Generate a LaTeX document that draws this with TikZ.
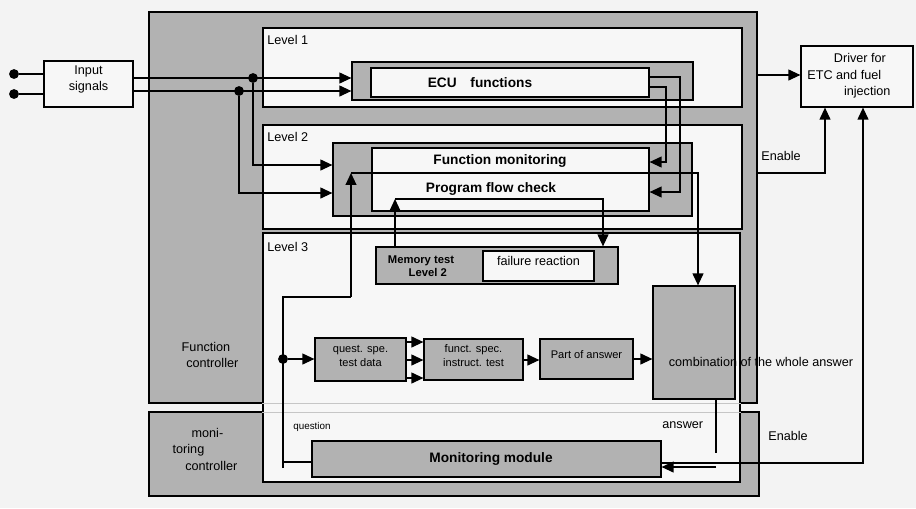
\documentclass[tikz,border=0pt]{standalone}
\usepackage{fontspec}
\setmainfont{Liberation Sans}
\usetikzlibrary{fit, arrows.meta}
\definecolor{boxgray}{RGB}{178,178,178}
\definecolor{paper}{RGB}{243,243,243}
\definecolor{inner}{RGB}{247,247,247}

\begin{document}
\begin{tikzpicture}[x=0.02cm, y=-0.02cm,
    font=\fontsize{7.2}{9.4}\selectfont,
    area/.style={draw, line width=1.3pt, fill=boxgray, inner sep=0pt},
    level/.style={draw, line width=0.6pt, fill=inner, inner sep=0pt},
    gbox/.style={draw, line width=0.7pt, fill=boxgray, inner sep=0pt, align=center},
    wbox/.style={draw, line width=0.7pt, fill=inner, inner sep=0pt, align=center},
    lbl/.style={inner sep=0pt, anchor=west},
    boldtxt/.style={inner sep=0pt, font=\fontsize{7.8}{9.4}\selectfont\bfseries},
    smalltxt/.style={font=\fontsize{6.3}{8.4}\selectfont},
    conn/.style={line width=0.7pt},
    arr/.style={conn, -{Triangle[length=6.8pt, width=6.2pt]}},
    junction/.style={circle, fill, inner sep=0pt, minimum size=5.6pt},
    ]
\path[use as bounding box, fill=paper] (0,0) rectangle (916,508);

\node[area, fit={(149,12) (757,403)}] (fc) {};
\node[area, fit={(149,412) (759,496)}] (mc) {};
\node[level, fit={(263,28) (742,107)}] (lev1) {};
\node[level, fit={(263,125) (742,229)}] (lev2) {};
\node[level, fit={(263,233) (740,482)}] (lev3) {};
\draw[gray!45] (lev3.west |- 0,403) -- (lev3.east |- 0,403);
\draw[gray!45] (lev3.west |- 0,412) -- (lev3.east |- 0,412);

\node[lbl] (l1) at (267,40) {Level 1};
\node[lbl] (l2) at (267,137) {Level 2};
\node[lbl] (l3) at (267,247) {Level 3};
\node[align=center] (fctext) at (206,355) {Function\\\hspace*{1em}controller};
\node[align=left] (mctext) at (205,449) {\hspace*{1.5em}moni-\\toring\\\hspace*{1em}controller};

\node[wbox, fit={(44,61) (133,107)}] (inp) {Input\\signals};
\node[wbox, fit={(801,46) (913,107)}] (drv) {};
\node[align=left, anchor=west, inner sep=0pt] (drvt) at (807,76)
    {\hspace*{2.1em}Driver for\\ETC and fuel\\\hspace*{2.9em}injection};

\node[gbox, fit={(352,62) (693,100)}] (ecug) {};
\node[wbox, fit={(371,68) (649,97)}] (ecu) {};
\node[boldtxt] (ecut) at (480,83) {ECU\hspace{1em}functions};

\node[gbox, fit={(333,143) (692,216)}] (fmong) {};
\node[wbox, fit={(372,148) (649,211)}] (fmon) {};
\node[boldtxt] (fmont) at (500,161) {Function monitoring};
\node[boldtxt] (pflow) at (491,189) {Program flow check};

\node[gbox, fit={(376,247) (618,284)}] (mem) {};
\node[boldtxt, font=\fontsize{6.4}{7.6}\selectfont\bfseries, align=center] (memt) at (421,266)
    {Memory test\\\hspace*{1.2em}Level 2};
\node[wbox, fit={(483,251) (594,281)}] (fail) {failure reaction};

\node[gbox, smalltxt, fit={(315,338) (406,381)}] (quest) {quest. spe.\\test data};
\node[gbox, smalltxt, fit={(424,339) (523,380)}] (funct) {funct. spec.\\instruct. test};
\node[gbox, smalltxt, fit={(540,339) (633,379)}] (part) {Part of answer};
\node[gbox, fit={(653,286) (735,399)}] (comb) {};

\node[gbox, fit={(312,441) (661,477)}] (mon) {};
\node[boldtxt] (mont) at (491,459) {Monitoring module};

\node[junction] (t1) at (14,74) {};
\node[junction] (t2) at (14,94) {};
\draw[conn] (t1) -- (inp.west |- t1);
\draw[conn] (t2) -- (inp.west |- t2);

\draw[arr] (inp.east |- 0,78) -- (ecug.west |- 0,78);
\draw[arr] (inp.east |- 0,91) -- (ecug.west |- 0,91);
\node[junction] (j1) at (253,78) {};
\node[junction] (j2) at (239,91) {};
\draw[arr] (j1) |- (fmong.west |- 0,165);
\draw[arr] (j2) |- (fmong.west |- 0,193);

\draw[arr] (ecu.east |- 0,77) -| (680,192) -- (fmon.east |- 0,192);
\draw[arr] (ecu.east |- 0,87) -| (666,162) -- (fmon.east |- 0,162);

\coordinate (qtop) at (283,297);
\coordinate (qbend) at (351,297);
\coordinate (qup) at (351,173);
\draw[conn] (mon.west |- 0,462) -- (283,462);
\draw[conn] (283,468) -- (qtop) -- (qbend);
\draw[arr] (qbend) -- (qup);
\draw[arr] (qup) -| (698,0 |- comb.north);

\coordinate (mup) at (395,199);
\draw[arr] (395,0 |- mem.north) -- (mup);
\draw[arr] (mup) -| (603,0 |- mem.north);

\node[junction] (j3) at (283,359) {};
\draw[arr] (j3) -- (quest.west |- j3);
\foreach \yy in {342,360,378}
    \draw[arr] (quest.east |- 0,\yy) -- (funct.west |- 0,\yy);
\draw[arr] (funct.east |- 0,360) -- (part.west |- 0,360);
\draw[arr] (part.east |- 0,359) -- (comb.west |- 0,359);

\draw[conn] (716,0 |- comb.south) -- (716,453);
\draw[arr] (716,467) -- (mon.east |- 0,467);

\draw[arr] (fc.east |- 0,75) -- (drv.west |- 0,75);
\draw[arr] (fc.east |- 0,173) -| (825,0 |- drv.south);
\draw[arr] (mon.east |- 0,463) -| (863,0 |- drv.south);

\node (combt) at (761,362) {combination of the whole answer};
\node[font=\fontsize{5.6}{7}\selectfont, lbl] (qtext) at (293,427) {question};
\node[lbl] (atext) at (662,425) {answer};
\node[lbl] (en1) at (761,156) {Enable};
\node[lbl] (en2) at (768,436) {Enable};
\end{tikzpicture}
\end{document}
